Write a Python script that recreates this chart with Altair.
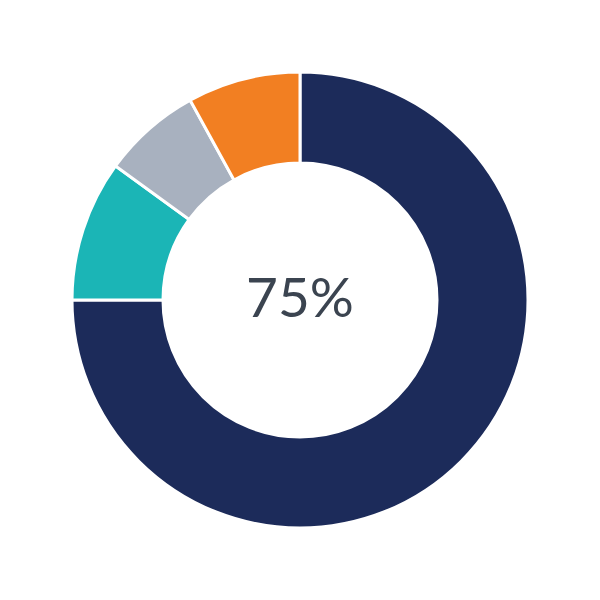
import altair as alt
import pandas as pd

categories = ["A", "B", "C", "D"]
values = [75, 10, 7, 8]
colors = ["#1c2b5a", "#1bb5b6", "#a8b1bf", "#f27f22"]
center_label = ["75%"]

df = pd.DataFrame({"cat": categories, "val": values, "order": list(range(len(values)))})

arcs = alt.Chart(df).mark_arc(
    outerRadius=228, innerRadius=137, stroke="white", strokeWidth=3
).encode(
    theta=alt.Theta("val:Q", stack=True),
    order=alt.Order("order:Q"),
    color=alt.Color("cat:N", scale=alt.Scale(domain=categories, range=colors), legend=None),
)

text = alt.Chart(pd.DataFrame({"t": center_label})).mark_text(
    font="Lato", fontSize=55, color="#3b4450", baseline="middle", align="center"
).encode(text="t:N")

chart = alt.layer(arcs, text).properties(
    width=584, height=584, padding=0, autosize=alt.AutoSizeParams(type="none")
).configure_view(stroke=None)

chart.save("out.html", embed_options={"renderer": "svg", "actions": False})
